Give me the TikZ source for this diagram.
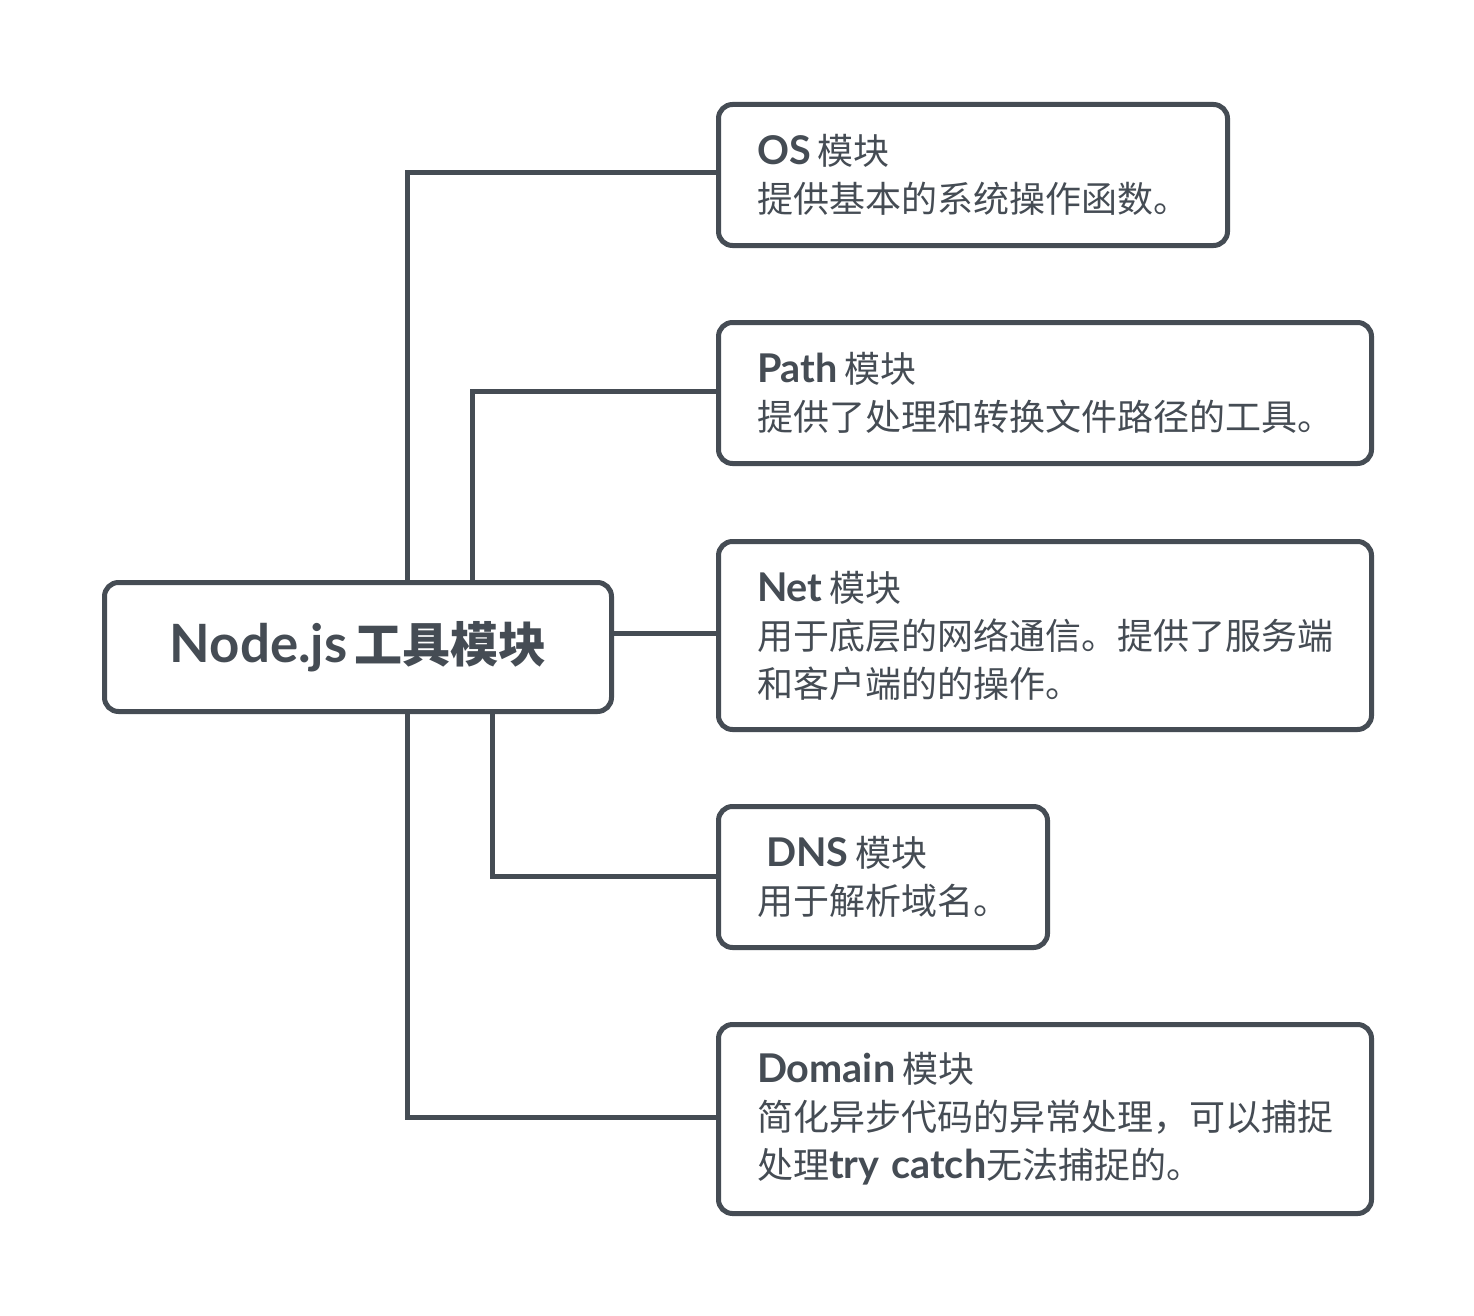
\documentclass[tikz,border=0pt]{standalone}
\usepackage{fontspec}
\setmainfont{Noto Sans CJK SC}
\newfontfamily\lat[Scale=1.1]{Lato}
\definecolor{ink}{RGB}{69,76,84}
\tikzset{
  box/.style={draw=ink, line width=5pt, rounded corners=14pt, fill=white, text=ink, inner sep=0pt},
  leaf/.style={box, align=left, font=\fontsize{36}{48}\selectfont},
  conn/.style={draw=ink, line width=5pt}
}
\newcommand{\ttl}[1]{{\lat\bfseries #1}}
\newcommand{\hd}[1]{{\lat\bfseries #1\hspace{7pt}}}
\begin{document}
\begin{tikzpicture}[x=1pt,y=-1pt]
\useasboundingbox[fill=white] (0,0) rectangle (1474,1316);
\node[box, minimum width=507pt, minimum height=129pt, font=\fontsize{48}{56}\selectfont] (root) at (358,647) {\hd{Node.js}{\bfseries 工具模块}};
\node[leaf, minimum width=509pt, minimum height=141pt, text width=432pt] (os) at (973,175) {\hd{OS}模块\\提供基本的系统操作函数。};
\node[leaf, minimum width=653pt, minimum height=141pt, text width=576pt] (path) at (1045,393) {\hd{Path}模块\\提供了处理和转换文件路径的工具。};
\node[leaf, minimum width=653pt, minimum height=188pt, text width=576pt] (net) at (1045,635.5) {\hd{Net}模块\\用于底层的网络通信。提供了服务端\\和客户端的的操作。};
\node[leaf, minimum width=329pt, minimum height=141pt, text width=252pt] (dns) at (883,877) {\hspace*{9pt}\hd{DNS}模块\\用于解析域名。};
\node[leaf, minimum width=653pt, minimum height=189pt, text width=576pt] (domain) at (1045,1119) {\hd{Domain}模块\\简化异步代码的异常处理，可以捕捉\\处理\ttl{try catch}无法捕捉的。};
\draw[conn] ([xshift=305.5pt]root.north west) |- ([yshift=2pt]os.west);
\draw[conn] ([xshift=370.5pt]root.north west) |- ([yshift=2pt]path.west);
\draw[conn] ([yshift=14pt]root.east) -- ([yshift=14pt]root.east -| net.west);
\draw[conn] ([xshift=390.5pt]root.south west) |- ([yshift=1pt]dns.west);
\draw[conn] ([xshift=305.5pt]root.south west) |- ([yshift=2pt]domain.west);
\end{tikzpicture}
\end{document}
